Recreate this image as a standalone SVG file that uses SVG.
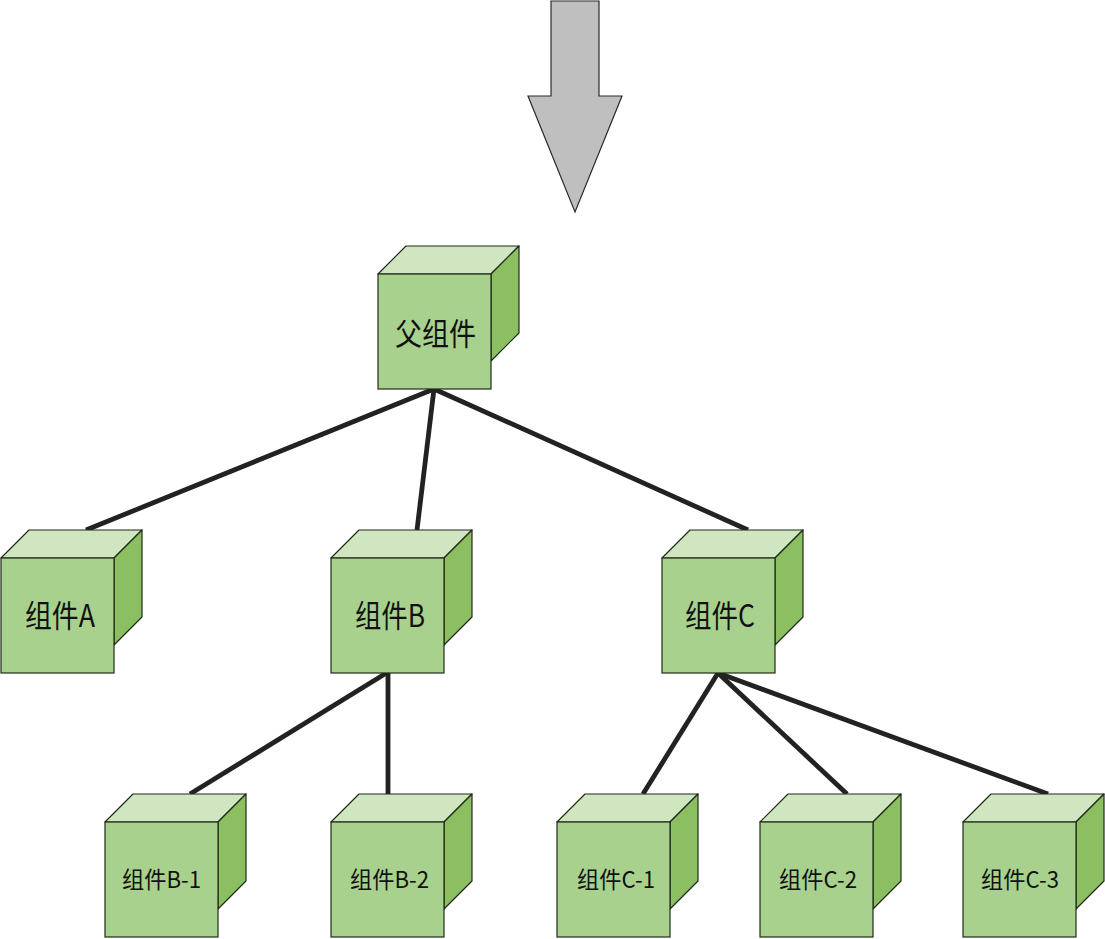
<svg xmlns="http://www.w3.org/2000/svg" width="1105" height="939" viewBox="0 0 1105 939">
  <defs>
    <style>
      .front { fill: #a9d18e; stroke: #1f2a17; stroke-width: 1.2; }
      .top { fill: #d0e6c1; stroke: #1f2a17; stroke-width: 1.2; stroke-linejoin: round; }
      .side { fill: #8bbf62; stroke: #1f2a17; stroke-width: 1.2; stroke-linejoin: round; }
      .lbl { font-family: "Noto Sans CJK SC", "DejaVu Sans", sans-serif; fill: #111; text-anchor: start; }
      .big { font-size: 31px; }
      .small { font-size: 23px; }
      .link { stroke: #222; stroke-width: 4.8; fill: none; stroke-linecap: butt; }
    </style>
    <!-- unit cube: front face 113x115, depth offset 28 -->
    <g id="cube">
      <polygon class="top" points="0,28 28,0 141,0 113,28"/>
      <polygon class="side" points="113,28 141,0 141,87 113,115"/>
      <rect class="front" x="0" y="28" width="113" height="115"/>
    </g>
  </defs>

  <!-- incoming arrow -->
  <g id="arrow">
    <polygon points="551,1 599,1 599,96 622,96 575,212 528,96 551,96" fill="#bfbfbf" stroke="#2a2a2a" stroke-width="1.2" stroke-linejoin="miter"/>
  </g>

  <!-- connectors -->
  <g id="connectors">
    <line class="link" x1="434" y1="389" x2="86" y2="530"/>
    <line class="link" x1="434" y1="389" x2="417" y2="530"/>
    <line class="link" x1="434" y1="389" x2="748" y2="530"/>
    <line class="link" x1="388" y1="672" x2="190" y2="794"/>
    <line class="link" x1="388" y1="672" x2="388" y2="823"/>
    <line class="link" x1="718" y1="673" x2="643" y2="794"/>
    <line class="link" x1="718" y1="673" x2="847" y2="794"/>
    <line class="link" x1="718" y1="673" x2="1048" y2="794"/>
  </g>

  <g id="parent" transform="translate(378,246)">
    <use href="#cube"/>
    <text class="lbl big" x="17" y="99" textLength="81" lengthAdjust="spacingAndGlyphs">父组件</text>
  </g>

  <g id="compA" transform="translate(1,530)">
    <use href="#cube"/>
    <text class="lbl big" x="24" y="97" textLength="70" lengthAdjust="spacingAndGlyphs">组件A</text>
  </g>

  <g id="compB" transform="translate(331,530)">
    <use href="#cube"/>
    <text class="lbl big" x="24" y="97" textLength="70" lengthAdjust="spacingAndGlyphs">组件B</text>
  </g>

  <g id="compC" transform="translate(662,530)">
    <use href="#cube"/>
    <text class="lbl big" x="23" y="97" textLength="70" lengthAdjust="spacingAndGlyphs">组件C</text>
  </g>

  <g id="compB1" transform="translate(105,794)">
    <use href="#cube"/>
    <text class="lbl small" x="17" y="94" textLength="79" lengthAdjust="spacingAndGlyphs">组件B-1</text>
  </g>

  <g id="compB2" transform="translate(331,794)">
    <use href="#cube"/>
    <text class="lbl small" x="19" y="94" textLength="79" lengthAdjust="spacingAndGlyphs">组件B-2</text>
  </g>

  <g id="compC1" transform="translate(557,794)">
    <use href="#cube"/>
    <text class="lbl small" x="20" y="94" textLength="78" lengthAdjust="spacingAndGlyphs">组件C-1</text>
  </g>

  <g id="compC2" transform="translate(760,794)">
    <use href="#cube"/>
    <text class="lbl small" x="19" y="94" textLength="78" lengthAdjust="spacingAndGlyphs">组件C-2</text>
  </g>

  <g id="compC3" transform="translate(963,794)">
    <use href="#cube"/>
    <text class="lbl small" x="18" y="94" textLength="78" lengthAdjust="spacingAndGlyphs">组件C-3</text>
  </g>
</svg>
